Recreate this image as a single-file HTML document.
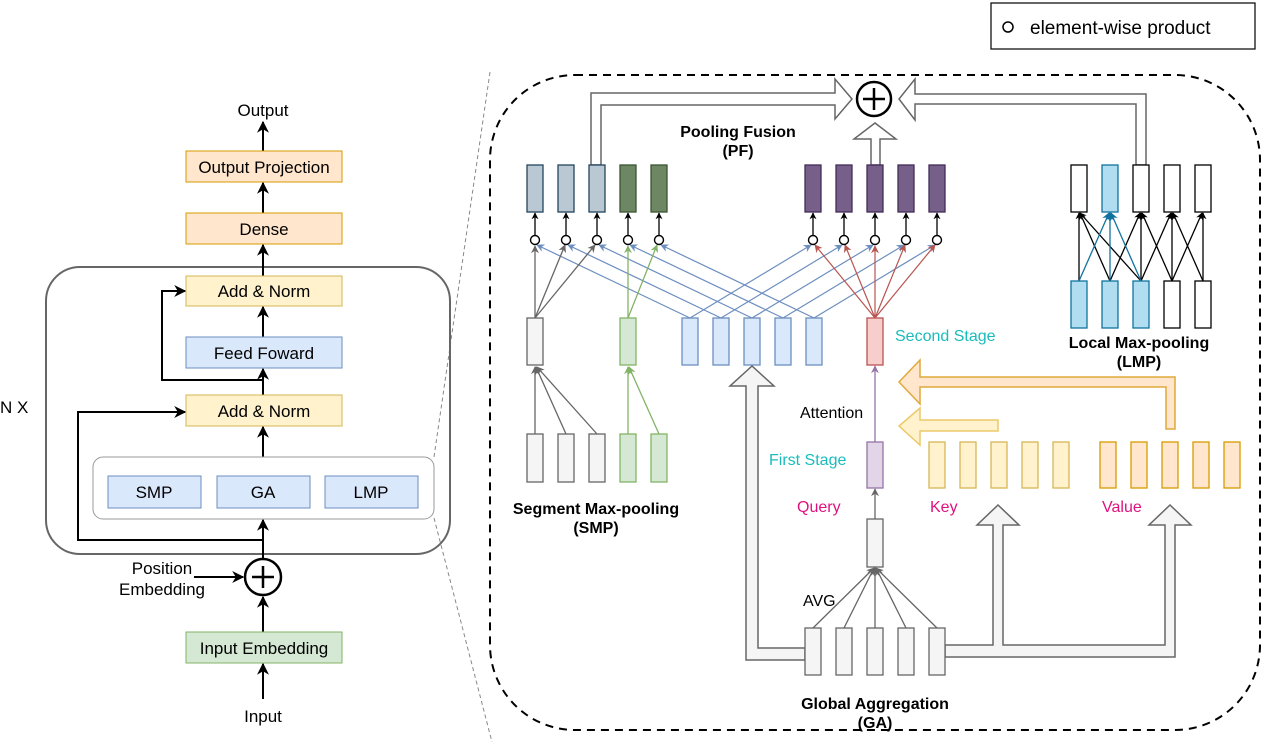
<!DOCTYPE html>
<html><head><meta charset="utf-8"><style>
html,body{margin:0;padding:0;background:#fff;}
svg{display:block;font-family:"Liberation Sans",Arial,sans-serif;}
</style></head><body>
<svg width="1264" height="742" viewBox="0 0 1264 742" xmlns="http://www.w3.org/2000/svg">
<defs>
<marker id="mk" viewBox="0 0 10 10" refX="9" refY="5" markerWidth="7" markerHeight="7" orient="auto" markerUnits="userSpaceOnUse"><path d="M0,0 L10,5 L0,10 L3,5 z" fill="#000"/></marker>
<marker id="mkb" viewBox="0 0 10 10" refX="9" refY="5" markerWidth="12" markerHeight="12" orient="auto" markerUnits="userSpaceOnUse"><path d="M0,0 L10,5 L0,10 L3,5 z" fill="#000"/></marker>
<marker id="mg" viewBox="0 0 10 10" refX="9" refY="5" markerWidth="8" markerHeight="8" orient="auto" markerUnits="userSpaceOnUse"><path d="M0,0 L10,5 L0,10 L3,5 z" fill="#666"/></marker>
<marker id="mbl" viewBox="0 0 10 10" refX="9" refY="5" markerWidth="8" markerHeight="8" orient="auto" markerUnits="userSpaceOnUse"><path d="M0,0 L10,5 L0,10 L3,5 z" fill="#6c8ebf"/></marker>
<marker id="mgr" viewBox="0 0 10 10" refX="9" refY="5" markerWidth="8" markerHeight="8" orient="auto" markerUnits="userSpaceOnUse"><path d="M0,0 L10,5 L0,10 L3,5 z" fill="#82b366"/></marker>
<marker id="mr" viewBox="0 0 10 10" refX="9" refY="5" markerWidth="8" markerHeight="8" orient="auto" markerUnits="userSpaceOnUse"><path d="M0,0 L10,5 L0,10 L3,5 z" fill="#b85450"/></marker>
<marker id="mp" viewBox="0 0 10 10" refX="9" refY="5" markerWidth="8" markerHeight="8" orient="auto" markerUnits="userSpaceOnUse"><path d="M0,0 L10,5 L0,10 L3,5 z" fill="#9673a6"/></marker>
<marker id="mt" viewBox="0 0 10 10" refX="9" refY="5" markerWidth="8" markerHeight="8" orient="auto" markerUnits="userSpaceOnUse"><path d="M0,0 L10,5 L0,10 L3,5 z" fill="#10739e"/></marker>
</defs>

<!-- Legend -->
<rect x="991" y="3" width="264" height="46" fill="#fff" stroke="#000" stroke-width="1.2"/>
<circle cx="1008" cy="27" r="5" fill="#fff" stroke="#000" stroke-width="1.5"/>
<text x="1030" y="34" font-size="19">element-wise product</text>

<!-- zoom dashed lines -->
<line x1="490" y1="72" x2="434" y2="457" stroke="#888" stroke-dasharray="4,3"/>
<line x1="434" y1="518" x2="492" y2="742" stroke="#888" stroke-dasharray="4,3"/>

<!-- LEFT -->
<text x="263" y="116" font-size="17" text-anchor="middle">Output</text>
<line x1="263" y1="151" x2="263" y2="122" stroke="#000" stroke-width="2" marker-end="url(#mkb)"/>
<rect x="186" y="151" width="156" height="31" fill="#ffe6cc" stroke="#d79b00"/>
<text x="264" y="173" font-size="17" text-anchor="middle">Output Projection</text>
<line x1="263" y1="213" x2="263" y2="183" stroke="#000" stroke-width="2" marker-end="url(#mkb)"/>
<rect x="186" y="213" width="156" height="31" fill="#ffe6cc" stroke="#d79b00"/>
<text x="264" y="235" font-size="17" text-anchor="middle">Dense</text>
<rect x="46" y="267" width="404" height="287" rx="34" fill="none" stroke="#666" stroke-width="2"/>
<line x1="263" y1="276" x2="263" y2="245" stroke="#000" stroke-width="2" marker-end="url(#mkb)"/>
<rect x="186" y="276" width="156" height="30" fill="#fff2cc" stroke="#d6b656"/>
<text x="264" y="297" font-size="17" text-anchor="middle">Add &amp; Norm</text>
<line x1="263" y1="337" x2="263" y2="307" stroke="#000" stroke-width="2" marker-end="url(#mkb)"/>
<rect x="186" y="337" width="156" height="31" fill="#dae8fc" stroke="#6c8ebf"/>
<text x="264" y="359" font-size="17" text-anchor="middle">Feed Foward</text>
<line x1="263" y1="395" x2="263" y2="369" stroke="#000" stroke-width="2" marker-end="url(#mkb)"/>
<polyline points="263,380 162,380 162,291 185,291" fill="none" stroke="#000" stroke-width="2" marker-end="url(#mkb)"/>
<rect x="186" y="395" width="156" height="31" fill="#fff2cc" stroke="#d6b656"/>
<text x="264" y="417" font-size="17" text-anchor="middle">Add &amp; Norm</text>
<line x1="263" y1="457" x2="263" y2="427" stroke="#000" stroke-width="2" marker-end="url(#mkb)"/>
<rect x="93" y="457" width="341" height="62" rx="10" fill="#fff" stroke="#999"/>
<rect x="108" y="476" width="93" height="32" fill="#dae8fc" stroke="#6c8ebf"/>
<rect x="217" y="476" width="93" height="32" fill="#dae8fc" stroke="#6c8ebf"/>
<rect x="325" y="476" width="93" height="32" fill="#dae8fc" stroke="#6c8ebf"/>
<text x="154" y="498" font-size="17" text-anchor="middle">SMP</text>
<text x="263" y="498" font-size="17" text-anchor="middle">GA</text>
<text x="371" y="498" font-size="17" text-anchor="middle">LMP</text>
<line x1="263" y1="559" x2="263" y2="520" stroke="#000" stroke-width="2" marker-end="url(#mkb)"/>
<polyline points="263,540 78,540 78,412 185,412" fill="none" stroke="#000" stroke-width="2" marker-end="url(#mkb)"/>
<text x="0" y="413" font-size="17">N X</text>
<circle cx="263" cy="577" r="18" fill="#fff" stroke="#000" stroke-width="2.5"/>
<line x1="252" y1="577" x2="274" y2="577" stroke="#000" stroke-width="2.5"/>
<line x1="263" y1="566" x2="263" y2="588" stroke="#000" stroke-width="2.5"/>
<text x="162" y="574" font-size="17" text-anchor="middle">Position</text>
<text x="162" y="595" font-size="17" text-anchor="middle">Embedding</text>
<line x1="194" y1="577" x2="243" y2="577" stroke="#000" stroke-width="2" marker-end="url(#mkb)"/>
<line x1="263" y1="632" x2="263" y2="597" stroke="#000" stroke-width="2" marker-end="url(#mkb)"/>
<rect x="186" y="632" width="156" height="31" fill="#d5e8d4" stroke="#82b366"/>
<text x="264" y="654" font-size="17" text-anchor="middle">Input Embedding</text>
<line x1="263" y1="699" x2="263" y2="664" stroke="#000" stroke-width="2" marker-end="url(#mkb)"/>
<text x="263" y="722" font-size="17" text-anchor="middle">Input</text>

<!-- RIGHT dashed container -->
<rect x="490" y="75" width="770" height="655" rx="85" fill="none" stroke="#000" stroke-width="2" stroke-dasharray="8,6"/>

<!-- PF hollow arrows -->
<polygon points="591,165 591,93 835,93 835,79 852,99 835,119 835,105 601,105 601,165" fill="#fff" stroke="#666" stroke-width="1.5"/>
<polygon points="1146,165 1146,94 915,94 915,79 899,99 915,120 915,104 1136,104 1136,165" fill="#fff" stroke="#666" stroke-width="1.5"/>
<polygon points="871,165 871,139 854,139 875,123 896,139 880,139 880,165" fill="#fff" stroke="#666" stroke-width="1.5"/>
<circle cx="874" cy="99" r="17" fill="#fff" stroke="#000" stroke-width="2.5"/>
<line x1="863" y1="99" x2="885" y2="99" stroke="#000" stroke-width="2.5"/>
<line x1="874" y1="88" x2="874" y2="110" stroke="#000" stroke-width="2.5"/>
<text x="738" y="137" font-size="16" font-weight="bold" text-anchor="middle">Pooling Fusion</text>
<text x="738" y="156" font-size="16" font-weight="bold" text-anchor="middle">(PF)</text>

<!-- top row boxes -->
<g stroke-width="1.3">
<rect x="527" y="165" width="16" height="47" fill="#bac8d3" stroke="#23445d"/>
<rect x="558" y="165" width="16" height="47" fill="#bac8d3" stroke="#23445d"/>
<rect x="589" y="165" width="16" height="47" fill="#bac8d3" stroke="#23445d"/>
<rect x="620" y="165" width="16" height="47" fill="#6d8764" stroke="#3a5431"/>
<rect x="651" y="165" width="16" height="47" fill="#6d8764" stroke="#3a5431"/>
<rect x="805" y="165" width="16" height="47" fill="#76608a" stroke="#432d57"/>
<rect x="836" y="165" width="16" height="47" fill="#76608a" stroke="#432d57"/>
<rect x="867" y="165" width="16" height="47" fill="#76608a" stroke="#432d57"/>
<rect x="898" y="165" width="16" height="47" fill="#76608a" stroke="#432d57"/>
<rect x="929" y="165" width="16" height="47" fill="#76608a" stroke="#432d57"/>
</g>
<g stroke="#000" stroke-width="1.3">
<line x1="535" y1="235" x2="535" y2="213" marker-end="url(#mk)"/>
<line x1="566" y1="235" x2="566" y2="213" marker-end="url(#mk)"/>
<line x1="597" y1="235" x2="597" y2="213" marker-end="url(#mk)"/>
<line x1="628" y1="235" x2="628" y2="213" marker-end="url(#mk)"/>
<line x1="659" y1="235" x2="659" y2="213" marker-end="url(#mk)"/>
<line x1="813" y1="235" x2="813" y2="213" marker-end="url(#mk)"/>
<line x1="844" y1="235" x2="844" y2="213" marker-end="url(#mk)"/>
<line x1="875" y1="235" x2="875" y2="213" marker-end="url(#mk)"/>
<line x1="906" y1="235" x2="906" y2="213" marker-end="url(#mk)"/>
<line x1="937" y1="235" x2="937" y2="213" marker-end="url(#mk)"/>
</g>
<g stroke="#6c8ebf" stroke-width="1.2">
<line x1="690" y1="318" x2="537" y2="245" marker-end="url(#mbl)"/>
<line x1="721" y1="318" x2="568" y2="245" marker-end="url(#mbl)"/>
<line x1="752" y1="318" x2="599" y2="245" marker-end="url(#mbl)"/>
<line x1="783" y1="318" x2="630" y2="245" marker-end="url(#mbl)"/>
<line x1="814" y1="318" x2="661" y2="245" marker-end="url(#mbl)"/>
<line x1="690" y1="318" x2="811" y2="245" marker-end="url(#mbl)"/>
<line x1="721" y1="318" x2="842" y2="245" marker-end="url(#mbl)"/>
<line x1="752" y1="318" x2="873" y2="245" marker-end="url(#mbl)"/>
<line x1="783" y1="318" x2="904" y2="245" marker-end="url(#mbl)"/>
<line x1="814" y1="318" x2="935" y2="245" marker-end="url(#mbl)"/>
</g>
<g stroke="#666" stroke-width="1.3">
<line x1="535" y1="318" x2="535" y2="246" marker-end="url(#mg)"/>
<line x1="535" y1="318" x2="565" y2="245" marker-end="url(#mg)"/>
<line x1="535" y1="318" x2="595" y2="245" marker-end="url(#mg)"/>
</g>
<g stroke="#82b366" stroke-width="1.3">
<line x1="628" y1="318" x2="628" y2="246" marker-end="url(#mgr)"/>
<line x1="628" y1="318" x2="657" y2="245" marker-end="url(#mgr)"/>
</g>
<g stroke="#b85450" stroke-width="1.2">
<line x1="875" y1="318" x2="815" y2="245" marker-end="url(#mr)"/>
<line x1="875" y1="318" x2="845" y2="245" marker-end="url(#mr)"/>
<line x1="875" y1="318" x2="875" y2="246" marker-end="url(#mr)"/>
<line x1="875" y1="318" x2="905" y2="245" marker-end="url(#mr)"/>
<line x1="875" y1="318" x2="935" y2="245" marker-end="url(#mr)"/>
</g>
<g fill="#fff" stroke="#000" stroke-width="1.4">
<circle cx="535" cy="240" r="4.5"/><circle cx="566" cy="240" r="4.5"/><circle cx="597" cy="240" r="4.5"/><circle cx="628" cy="240" r="4.5"/><circle cx="659" cy="240" r="4.5"/>
<circle cx="813" cy="240" r="4.5"/><circle cx="844" cy="240" r="4.5"/><circle cx="875" cy="240" r="4.5"/><circle cx="906" cy="240" r="4.5"/><circle cx="937" cy="240" r="4.5"/>
</g>

<!-- middle row -->
<g stroke-width="1.3">
<rect x="527" y="318" width="16" height="47" fill="#f5f5f5" stroke="#666"/>
<rect x="620" y="318" width="16" height="47" fill="#d5e8d4" stroke="#82b366"/>
<rect x="682" y="318" width="16" height="47" fill="#dae8fc" stroke="#6c8ebf"/>
<rect x="713" y="318" width="16" height="47" fill="#dae8fc" stroke="#6c8ebf"/>
<rect x="744" y="318" width="16" height="47" fill="#dae8fc" stroke="#6c8ebf"/>
<rect x="775" y="318" width="16" height="47" fill="#dae8fc" stroke="#6c8ebf"/>
<rect x="806" y="318" width="16" height="47" fill="#dae8fc" stroke="#6c8ebf"/>
<rect x="867" y="318" width="16" height="47" fill="#f8cecc" stroke="#b85450"/>
</g>
<text x="895" y="341" font-size="16" fill="#1abcbc">Second Stage</text>

<!-- SMP bottom -->
<g stroke="#666" stroke-width="1.3">
<line x1="535" y1="434" x2="535" y2="367" marker-end="url(#mg)"/>
<line x1="566" y1="434" x2="536" y2="367" marker-end="url(#mg)"/>
<line x1="597" y1="434" x2="537" y2="367" marker-end="url(#mg)"/>
</g>
<g stroke="#82b366" stroke-width="1.3">
<line x1="628" y1="434" x2="628" y2="367" marker-end="url(#mgr)"/>
<line x1="659" y1="434" x2="629" y2="367" marker-end="url(#mgr)"/>
</g>
<g stroke-width="1.3">
<rect x="527" y="434" width="16" height="48" fill="#f5f5f5" stroke="#666"/>
<rect x="558" y="434" width="16" height="48" fill="#f5f5f5" stroke="#666"/>
<rect x="589" y="434" width="16" height="48" fill="#f5f5f5" stroke="#666"/>
<rect x="620" y="434" width="16" height="48" fill="#d5e8d4" stroke="#82b366"/>
<rect x="651" y="434" width="16" height="48" fill="#d5e8d4" stroke="#82b366"/>
</g>
<text x="596" y="514" font-size="16" font-weight="bold" text-anchor="middle">Segment Max-pooling</text>
<text x="596" y="533" font-size="16" font-weight="bold" text-anchor="middle">(SMP)</text>

<!-- LMP -->
<g stroke="#000" stroke-width="1.3">
<line x1="1079" y1="281" x2="1079" y2="213" marker-end="url(#mk)"/>
<line x1="1141" y1="281" x2="1080" y2="213" marker-end="url(#mk)"/>
<line x1="1110" y1="281" x2="1140" y2="213" marker-end="url(#mk)"/>
<line x1="1141" y1="281" x2="1141" y2="213" marker-end="url(#mk)"/>
<line x1="1172" y1="281" x2="1142" y2="213" marker-end="url(#mk)"/>
<line x1="1141" y1="281" x2="1171" y2="213" marker-end="url(#mk)"/>
<line x1="1172" y1="281" x2="1172" y2="213" marker-end="url(#mk)"/>
<line x1="1203" y1="281" x2="1173" y2="213" marker-end="url(#mk)"/>
<line x1="1172" y1="281" x2="1202" y2="213" marker-end="url(#mk)"/>
<line x1="1203" y1="281" x2="1203" y2="213" marker-end="url(#mk)"/>
<line x1="1110" y1="281" x2="1080" y2="213" marker-end="url(#mk)"/>
</g>
<g stroke="#10739e" stroke-width="1.3">
<line x1="1079" y1="281" x2="1109" y2="213" marker-end="url(#mt)"/>
<line x1="1110" y1="281" x2="1110" y2="213" marker-end="url(#mt)"/>
<line x1="1141" y1="281" x2="1111" y2="213" marker-end="url(#mt)"/>
</g>
<g stroke-width="1.3">
<rect x="1071" y="165" width="16" height="47" fill="#fff" stroke="#000"/>
<rect x="1102" y="165" width="16" height="47" fill="#b1ddf0" stroke="#10739e"/>
<rect x="1133" y="165" width="16" height="47" fill="#fff" stroke="#000"/>
<rect x="1164" y="165" width="16" height="47" fill="#fff" stroke="#000"/>
<rect x="1195" y="165" width="16" height="47" fill="#fff" stroke="#000"/>
<rect x="1071" y="281" width="16" height="47" fill="#b1ddf0" stroke="#10739e"/>
<rect x="1102" y="281" width="16" height="47" fill="#b1ddf0" stroke="#10739e"/>
<rect x="1133" y="281" width="16" height="47" fill="#b1ddf0" stroke="#10739e"/>
<rect x="1164" y="281" width="16" height="47" fill="#fff" stroke="#000"/>
<rect x="1195" y="281" width="16" height="47" fill="#fff" stroke="#000"/>
</g>
<text x="1139" y="348" font-size="16" font-weight="bold" text-anchor="middle">Local Max-pooling</text>
<text x="1139" y="367" font-size="16" font-weight="bold" text-anchor="middle">(LMP)</text>

<!-- GA big hollow arrows -->
<polygon points="746,386 730,386 752,366 774,386 758,386 758,648 805,648 805,660 746,660" fill="#f5f5f5" stroke="#666" stroke-width="1.5"/>
<polygon points="945,645 993,645 993,525 977,525 998,505 1019,525 1003,525 1003,645 1165,645 1165,525 1149,525 1170,505 1191,525 1175,525 1175,657 945,657" fill="#f5f5f5" stroke="#666" stroke-width="1.5"/>

<!-- orange arrows -->
<polygon points="1175,429 1175,377 920,377 920,360 899,382 920,404 920,387 1166,387 1166,429" fill="#ffe6cc" stroke="#e0a93a" stroke-width="1.5"/>
<polygon points="998,420 920,420 920,408 899,426 920,445 920,431 998,431" fill="#fff2cc" stroke="#ecc96a" stroke-width="1.5"/>

<!-- query path -->
<line x1="875" y1="442" x2="875" y2="366" stroke="#9673a6" stroke-width="1.3" marker-end="url(#mp)"/>
<line x1="875" y1="519" x2="875" y2="489" stroke="#666" stroke-width="1.3" marker-end="url(#mg)"/>
<rect x="867" y="442" width="16" height="46" fill="#e1d5e7" stroke="#9673a6" stroke-width="1.3"/>
<rect x="867" y="519" width="16" height="48" fill="#f5f5f5" stroke="#666" stroke-width="1.3"/>
<text x="800" y="418" font-size="16">Attention</text>
<text x="769" y="465" font-size="16" fill="#1abcbc">First Stage</text>
<text x="797" y="512" font-size="16" fill="#e0117f">Query</text>
<text x="930" y="512" font-size="16" fill="#e0117f">Key</text>
<text x="1102" y="512" font-size="16" fill="#e0117f">Value</text>
<text x="803" y="606" font-size="16">AVG</text>

<g stroke-width="1.3">
<rect x="929" y="442" width="16" height="46" fill="#fff2cc" stroke="#d6b656"/>
<rect x="960" y="442" width="16" height="46" fill="#fff2cc" stroke="#d6b656"/>
<rect x="991" y="442" width="16" height="46" fill="#fff2cc" stroke="#d6b656"/>
<rect x="1022" y="442" width="16" height="46" fill="#fff2cc" stroke="#d6b656"/>
<rect x="1053" y="442" width="16" height="46" fill="#fff2cc" stroke="#d6b656"/>
<rect x="1100" y="442" width="16" height="46" fill="#ffe6cc" stroke="#d79b00"/>
<rect x="1131" y="442" width="16" height="46" fill="#ffe6cc" stroke="#d79b00"/>
<rect x="1162" y="442" width="16" height="46" fill="#ffe6cc" stroke="#d79b00"/>
<rect x="1193" y="442" width="16" height="46" fill="#ffe6cc" stroke="#d79b00"/>
<rect x="1224" y="442" width="16" height="46" fill="#ffe6cc" stroke="#d79b00"/>
</g>

<!-- GA -->
<g stroke="#666" stroke-width="1.3">
<line x1="813" y1="628" x2="874" y2="568" marker-end="url(#mg)"/>
<line x1="844" y1="628" x2="874" y2="568" marker-end="url(#mg)"/>
<line x1="875" y1="628" x2="875" y2="568" marker-end="url(#mg)"/>
<line x1="906" y1="628" x2="876" y2="568" marker-end="url(#mg)"/>
<line x1="937" y1="628" x2="876" y2="568" marker-end="url(#mg)"/>
</g>
<g fill="#f5f5f5" stroke="#666" stroke-width="1.3">
<rect x="805" y="628" width="16" height="47"/>
<rect x="836" y="628" width="16" height="47"/>
<rect x="867" y="628" width="16" height="47"/>
<rect x="898" y="628" width="16" height="47"/>
<rect x="929" y="628" width="16" height="47"/>
</g>
<text x="875" y="709" font-size="16" font-weight="bold" text-anchor="middle">Global Aggregation</text>
<text x="875" y="728" font-size="16" font-weight="bold" text-anchor="middle">(GA)</text>
</svg>
</body></html>
